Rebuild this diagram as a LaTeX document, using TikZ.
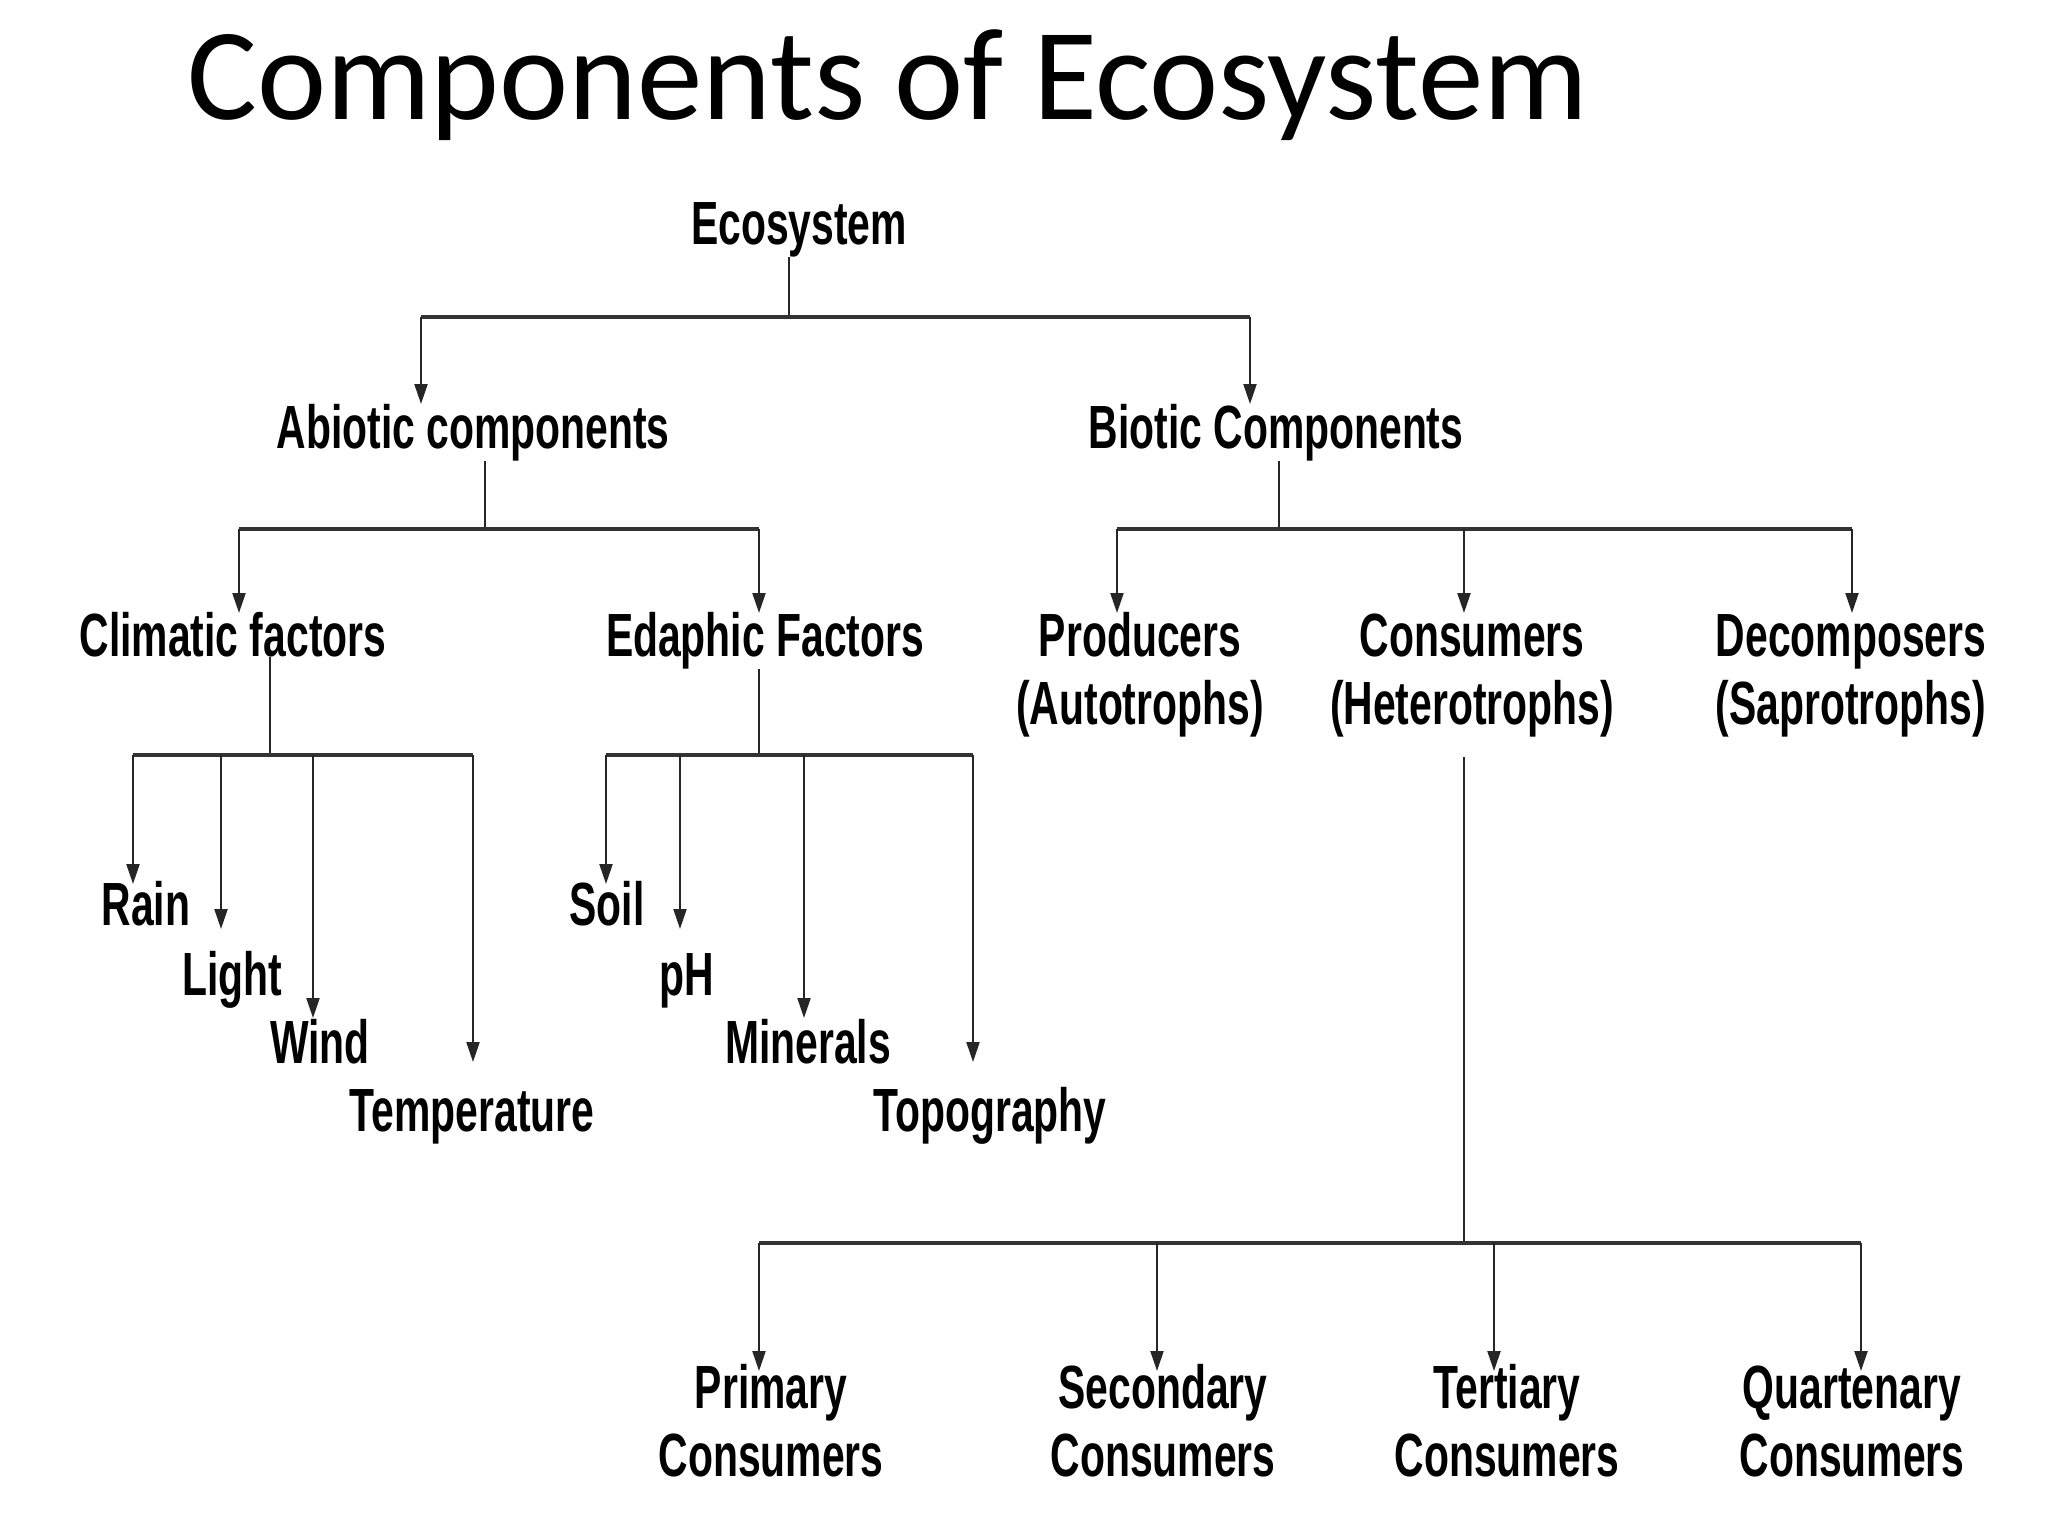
\documentclass[tikz,border=0pt]{standalone}
\usepackage{fontspec}
\setmainfont{Liberation Sans}
\newfontfamily\lab[FakeStretch=0.67]{Liberation Sans}
\newfontfamily\ttl{Carlito}
\usetikzlibrary{arrows.meta}
\begin{document}
\begin{tikzpicture}[x=1pt,y=-1pt,
 lbl/.style={inner sep=0pt, font=\lab\bfseries\fontsize{61}{68}\selectfont, align=center, anchor=base},
 ln/.style={draw=black!85, line width=2.2pt},
 bus/.style={draw=black!80, line width=4pt},
 arr/.style={ln, -{Triangle[length=20pt,width=13pt]}}]
\useasboundingbox[fill=white] (0,0) rectangle (2048,1536);

% title
\node[inner sep=0pt, anchor=base west, font=\ttl\fontsize{131}{140}\selectfont] (title) at (187,120) {Components of Ecosystem};

% nodes (multi-line nodes: base = baseline of last line)
\node[lbl] (eco) at (799,244) {Ecosystem};
\node[lbl] (abio) at (473,448) {Abiotic components};
\node[lbl] (bio) at (1276,448) {Biotic Components};
\node[lbl] (clim) at (233,656) {Climatic factors};
\node[lbl] (edaph) at (765,656) {Edaphic Factors};
\node[lbl] (prod) at (1140,724) {Producers\\(Autotrophs)};
\node[lbl] (cons) at (1472,724) {Consumers\\(Heterotrophs)};
\node[lbl] (decomp) at (1851,724) {Decomposers\\(Saprotrophs)};
\node[lbl] (rain) at (146,925) {Rain};
\node[lbl] (light) at (232,995) {Light};
\node[lbl] (wind) at (320,1063) {Wind};
\node[lbl] (temp) at (472,1131) {Temperature};
\node[lbl] (soil) at (607,925) {Soil};
\node[lbl] (ph) at (687,995) {pH};
\node[lbl] (min) at (808,1063) {Minerals};
\node[lbl] (topo) at (990,1131) {Topography};
\node[lbl] (prim) at (771,1476) {Primary\\Consumers};
\node[lbl] (sec) at (1163,1476) {Secondary\\Consumers};
\node[lbl] (tert) at (1507,1476) {Tertiary\\Consumers};
\node[lbl] (quart) at (1852,1476) {Quartenary\\Consumers};

% junction coordinates
\coordinate (j0) at (789,317);
\coordinate (b0l) at (421,317);  \coordinate (b0r) at (1250,317);
\coordinate (t0l) at (421,404);  \coordinate (t0r) at (1250,404);

\coordinate (j1) at (485,529);
\coordinate (b1l) at (239,529);  \coordinate (b1r) at (759,529);
\coordinate (t1l) at (239,613);  \coordinate (t1r) at (759,613);

\coordinate (j2) at (1279,529);
\coordinate (b2l) at (1117,529); \coordinate (b2m) at (1464,529); \coordinate (b2r) at (1852,529);
\coordinate (t2l) at (1117,613); \coordinate (t2m) at (1464,613); \coordinate (t2r) at (1852,613);

\coordinate (j3) at (270,755);
\coordinate (b3a) at (133,755); \coordinate (b3b) at (221,755); \coordinate (b3c) at (313,755); \coordinate (b3d) at (473,755);
\coordinate (t3a) at (133,884); \coordinate (t3b) at (221,929); \coordinate (t3c) at (313,1018); \coordinate (t3d) at (473,1062);

\coordinate (j4) at (759,755);
\coordinate (b4a) at (606,755); \coordinate (b4b) at (680,755); \coordinate (b4c) at (804,755); \coordinate (b4d) at (973,755);
\coordinate (t4a) at (606,884); \coordinate (t4b) at (680,929); \coordinate (t4c) at (804,1018); \coordinate (t4d) at (973,1062);

\coordinate (j5) at (1464,1243);
\coordinate (b5a) at (759,1243); \coordinate (b5b) at (1157,1243); \coordinate (b5c) at (1494,1243); \coordinate (b5d) at (1861,1243);
\coordinate (t5a) at (759,1371); \coordinate (t5b) at (1157,1371); \coordinate (t5c) at (1494,1371); \coordinate (t5d) at (1861,1371);

% level 0
\draw[ln] (eco.south -| j0) -- (j0);
\draw[bus] (b0l) -- (b0r);
\draw[arr] (b0l) -- (t0l);
\draw[arr] (b0r) -- (t0r);

% abiotic
\draw[ln] (abio.south -| j1) -- (j1);
\draw[bus] (b1l) -- (b1r);
\draw[arr] (b1l) -- (t1l);
\draw[arr] (b1r) -- (t1r);

% biotic
\draw[ln] (bio.south -| j2) -- (j2);
\draw[bus] (b2l) -- (b2r);
\draw[arr] (b2l) -- (t2l);
\draw[arr] (b2m) -- (t2m);
\draw[arr] (b2r) -- (t2r);

% climatic
\draw[ln] (clim.south -| j3) -- (j3);
\draw[bus] (b3a) -- (b3d);
\draw[arr] (b3a) -- (t3a);
\draw[arr] (b3b) -- (t3b);
\draw[arr] (b3c) -- (t3c);
\draw[arr] (b3d) -- (t3d);

% edaphic
\draw[ln] (edaph.south -| j4) -- (j4);
\draw[bus] (b4a) -- (b4d);
\draw[arr] (b4a) -- (t4a);
\draw[arr] (b4b) -- (t4b);
\draw[arr] (b4c) -- (t4c);
\draw[arr] (b4d) -- (t4d);

% consumers
\draw[ln] ([yshift=-20pt]cons.south -| j5) -- (j5);
\draw[bus] (b5a) -- (b5d);
\draw[arr] (b5a) -- (t5a);
\draw[arr] (b5b) -- (t5b);
\draw[arr] (b5c) -- (t5c);
\draw[arr] (b5d) -- (t5d);
\end{tikzpicture}
\end{document}
